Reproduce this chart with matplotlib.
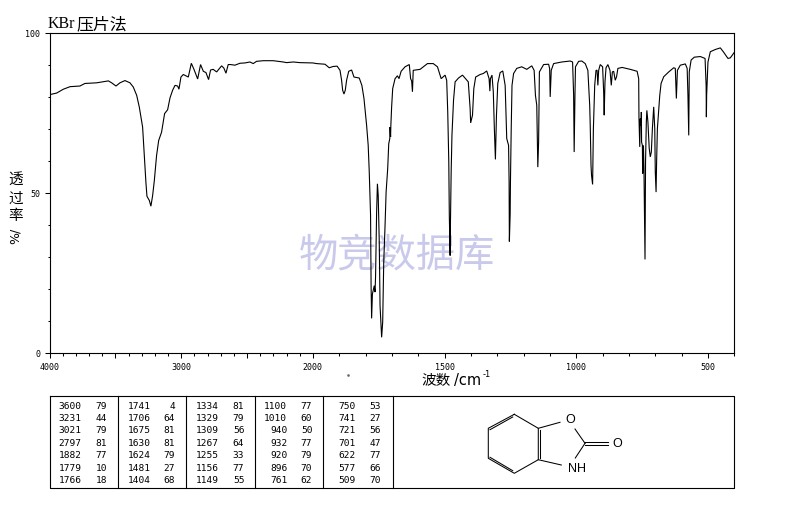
import numpy as np
import matplotlib
matplotlib.use("Agg")
import matplotlib.pyplot as plt

W, H = 794, 510
CJK = ['Noto Sans CJK SC', 'DejaVu Sans']
MONO = 'DejaVu Sans Mono'

wavenumber = [
4000,3946,3895,3844,3769,3731,3642,3553,3528,3495,3465,3427,3389,3364,3338,3318,3293,3280,3268,3260,
3242,3230,3217,3204,3187,3171,3149,3126,3103,3085,3065,3047,3027,3017,3002,2984,2946,2923,2903,2875,
2853,2832,2812,2792,2777,2757,2731,2693,2676,2660,2643,2625,2592,2554,2516,2478,2453,2428,2377,2301,
2225,2200,2149,2099,2000,
1986,1954,1938,1923,1908,1897,1891,1887,1882,1877,1872,1864,1853,1844,1824,1814,1806,1796,1790,1786,
1781,1779,1777,1774,1767,1764,1762,1758,1755,1752,1748,1745,1741,1739,1735,1731,1726,1722,1716,1712,
1708,1707,1705,1704,1701,1697,1688,1679,1673,1665,1650,1634,1629,1625,1622,1619,1593,1565,1543,1527,
1513,1498,1492,1488,1484,1482,1479,1478,1475,1472,1466,1460,1447,1432,1410,1403,1401,1394,1389,1382,
1365,1353,1340,1331,1328,1326,1320,1315,1311,1307,1303,1298,1289,1279,1270,1264,1257,1255,1254,1251,
1250,1247,1244,1238,1226,1207,1188,1169,1160,1155,1150,1146,1143,1140,
1124,1105,1101,1099,1095,1086,1055,1023,1014,1010,1008,1005,1003,991,979,966,956,949,947,944,
942,938,935,930,925,921,918,915,909,900,896,894,891,887,880,872,867,863,858,852,
847,842,826,795,769,763,762,759,757,754,753,752,749,748,745,743,739,737,734,732,
728,723,719,715,711,706,702,700,697,695,692,687,683,678,668,649,630,624,620,616,
605,586,579,576,573,571,564,552,529,511,507,506,505,500,491,472,453,440,424,415,400]

transmittance = [
80.6,81.1,82.3,83.1,83.3,84.1,84.3,84.9,84.3,83.3,84.3,85.0,84.3,83.0,80.4,76.7,70.5,61.6,53.3,48.9,
47.6,45.8,49.1,53.8,61.6,66.3,68.9,74.7,75.9,79.6,82.0,83.5,83.3,82.3,86.1,86.9,86.1,90.4,88.5,85.5,
90.0,87.9,87.5,85.3,88.3,88.5,87.7,89.6,88.9,87.3,90.0,90.0,89.8,90.4,90.5,90.8,90.3,91.0,91.2,91.2,
90.8,90.6,90.8,90.6,90.5,
90.3,90.1,89.0,89.4,89.5,88.2,85.1,82.0,80.8,82.0,85.1,87.9,88.3,86.1,85.8,83.5,79.4,71.0,64.8,56.5,
42.9,21.0,10.8,18.4,21.0,19.0,24.0,44.0,52.8,49.2,34.6,14.8,8.5,4.9,9.6,28.3,39.8,50.2,57.5,65.3,
66.9,70.5,67.4,71.0,76.8,82.5,85.6,86.5,85.6,87.9,89.3,90.0,85.6,84.9,81.5,88.2,88.5,90.3,90.3,89.3,
85.6,86.7,85.1,75.2,59.6,42.9,30.4,38.7,56.5,67.9,78.9,84.6,85.8,86.7,84.6,76.3,71.8,74.2,82.5,86.1,
86.9,87.2,88.0,85.6,81.7,85.6,86.7,81.5,70.0,60.4,74.2,84.1,87.5,88.0,83.5,66.9,64.8,53.3,34.8,43.4,
52.8,70.0,83.5,87.2,88.8,89.3,88.5,89.6,88.2,80.4,77.3,58.0,65.8,87.7,
90.0,90.1,88.7,79.9,88.2,90.3,90.8,91.1,90.8,80.4,62.7,80.4,89.3,91.0,91.1,90.3,88.2,77.3,71.0,58.5,
55.4,52.6,70.0,83.5,88.2,88.2,83.5,88.2,90.0,89.3,81.5,74.2,84.6,89.0,90.0,88.2,83.5,87.7,87.9,85.1,
86.2,88.8,89.1,88.5,87.9,85.6,73.6,64.3,73.1,71.0,75.2,65.8,64.8,56.0,64.8,57.5,29.2,59.6,72.1,75.7,
72.1,63.8,61.2,62.7,70.0,76.8,70.0,56.5,50.2,59.6,70.0,75.7,80.4,84.1,86.2,87.7,89.0,88.8,79.4,88.2,
89.8,90.2,88.8,80.4,67.9,87.7,91.4,92.3,92.5,91.9,83.5,73.6,80.4,90.8,94.0,94.7,95.2,93.8,91.9,92.1,93.8]

x_major = [4000,3500,3000,2500,2000,1500,1000,500]
x_major_labels = ['4000','','3000','','2000','1500','1000','500']
x_minor = [w for w in range(3900,399,-100) if w not in x_major]
y_major = [0,50,100]
y_minor = [10,20,30,40,60,70,80,90]

table_wn = [[3600,3231,3021,2797,1882,1779,1766],
            [1741,1706,1675,1630,1624,1481,1404],
            [1334,1329,1309,1267,1255,1156,1149],
            [1100,1010,940,932,920,896,761],
            [750,741,721,701,622,577,509]]
table_t = [[79,44,79,81,77,10,18],
           [4,64,81,81,79,27,68],
           [81,79,56,64,33,77,55],
           [77,60,50,77,79,70,62],
           [53,27,56,47,77,66,70]]

# outline of the structure drawing, in picture pixels
ring = [(514.3,415.3),(488.3,429.3),(488.3,459.3),(514.3,474.3),(538.3,460.7),(538.3,429.3),(514.3,415.3)]
bonds = [[(490,430.7),(512.7,418)],[(490,458.3),(512.7,471.7)],[(540.3,430.7),(540.3,459.3)],
         [(538.3,429.3),(560,423.3)],[(575,430),(585,444.3)],[(585,444.3),(575.3,459)],
         [(538.3,460.7),(561.3,466)],[(585,443.3),(608.3,443.3)],[(585,446),(608.3,446)]]
atoms = [('O',570.3,420),('O',617.7,444.3),('NH',576.7,469)]

def fwd(w):
    w = np.asarray(w, dtype=float)
    return np.where(w >= 2000, w, 2000 - (2000 - w) * 2)

def inv(p):
    p = np.asarray(p, dtype=float)
    return np.where(p >= 2000, p, 2000 - (2000 - p) / 2)

fig = plt.figure(figsize=(W / 100, H / 100), dpi=100, facecolor='white')
L, R, T, B = 49.5, 734.3, 33.5, 354.0
ax = fig.add_axes([L / W, 1 - B / H, (R - L) / W, (B - T) / H], facecolor='none', zorder=2)
ax.set_xscale('function', functions=(fwd, inv))
ax.plot(wavenumber, transmittance, color='black', lw=0.8, zorder=3, solid_joinstyle='miter')

ax.set_xticks(x_major, x_major_labels, fontsize=6, family=MONO)
ax.set_xticks(x_minor, minor=True)
ax.set_xticklabels([], minor=True)
ax.set_yticks(y_major, ['0', '50', '100'], fontsize=6, family=MONO)
ax.set_yticks(y_minor, minor=True)
ax.set_yticklabels([], minor=True)
ax.set_xlim(4000, 400)
ax.set_ylim(0, 100)
ax.tick_params(axis='both', which='major', length=3.8, width=0.75, pad=3)
ax.tick_params(axis='both', which='minor', length=1.8, width=0.75)
for s in ax.spines.values():
    s.set_linewidth(0.8)

# overlay in picture pixels for the labels, the table and the structure
ov = fig.add_axes([0, 0, 1, 1], facecolor='none', zorder=1)
ov.set_xlim(0, W)
ov.set_ylim(H, 0)
ov.axis('off')

ov.text(397, 255, '物竞数据库', color=(0.79, 0.79, 0.92), fontsize=28.3, family=CJK,
        ha='center', va='center', zorder=1)
ov.text(48, 24.5, 'KBr', fontsize=11.5, family=['Liberation Serif'], ha='left', va='center')
ov.text(76, 24.5, '压片法', fontsize=12.2, family=CJK, ha='left', va='center')
for ch, y in zip('透过率', (180, 199, 216)):
    ov.text(15.5, y, ch, fontsize=10.5, family=CJK, ha='center', va='center')
ov.text(15.5, 236, '%/', fontsize=9, family='DejaVu Sans', rotation=90, ha='center', va='center')
ov.text(421, 381, '波数', fontsize=10.5, family=CJK, ha='left', va='center')
ov.text(454, 381, '/cm', fontsize=10.5, family='DejaVu Sans', ha='left', va='center')
ov.text(483, 374.5, '-1', fontsize=6, family='DejaVu Sans', ha='left', va='center')
ov.plot([348], [375.5], marker='s', ms=0.8, color='0.4', ls='none')

# table
ov.plot([L, R, R, L, L], [397.4, 397.4, 489, 489, 397.4], color='black', lw=0.8)
for vx in (118.3, 186.3, 255.3, 323.3, 392.7):
    ov.plot([vx, vx], [397.4, 489], color='black', lw=0.8)
row_y = [406.7, 419, 431, 443.3, 455.7, 468.3, 480.7]
wn_right = [81.7, 150.7, 219, 287.3, 356]
t_right = [107.3, 175, 244.3, 312.3, 381]
for c in range(5):
    for r in range(7):
        ov.text(wn_right[c], row_y[r], str(table_wn[c][r]), fontsize=6.8, family=MONO, ha='right', va='center')
        ov.text(t_right[c], row_y[r], str(table_t[c][r]), fontsize=6.8, family=MONO, ha='right', va='center')

# structure
ov.plot(*zip(*ring), color='black', lw=0.75)
for b in bonds:
    ov.plot(*zip(*b), color='black', lw=0.75)
for s, x, y in atoms:
    ov.text(x, y, s, fontsize=9, family='Liberation Sans', ha='center', va='center')

fig.savefig('out.png', dpi=100)
